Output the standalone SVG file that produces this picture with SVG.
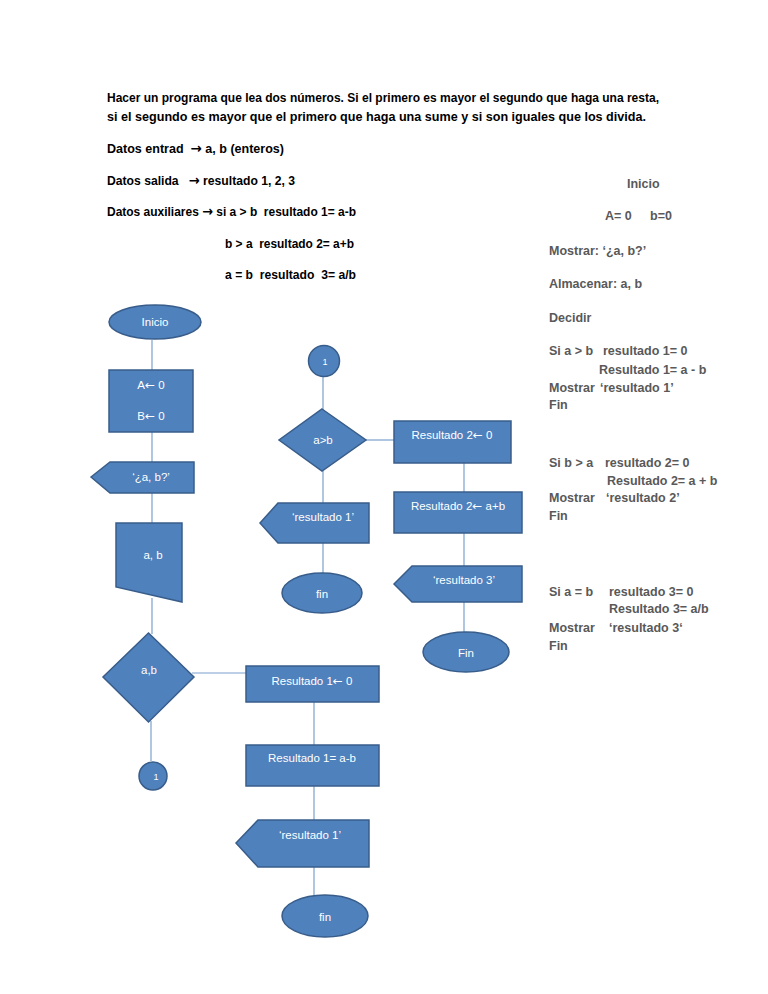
<svg xmlns="http://www.w3.org/2000/svg" width="768" height="994" viewBox="0 0 768 994">
<style>
.bg{fill:#ffffff}
text{white-space:pre}
.h{font-family:"Liberation Sans",Arial,sans-serif;font-weight:bold;font-size:13px;fill:#000}
.r{font-family:"Liberation Sans",Arial,sans-serif;font-weight:bold;font-size:12.5px;fill:#595959}
.s{fill:#4F81BD;stroke:#385D8A;stroke-width:1.5}
.t{font-family:"Liberation Sans",Arial,sans-serif;font-size:11.5px;fill:#ffffff;text-anchor:middle}
.c{stroke:#7BA0CD;stroke-width:1.2;fill:none}
.ar{font-family:"DejaVu Sans",sans-serif;font-weight:bold;font-size:14px}
.al{font-family:"DejaVu Sans",sans-serif;font-size:12px}
</style>
<rect class="bg" x="0" y="0" width="768" height="994"/>
<g id="header">
<text class="h" x="107" y="102" textLength="552" lengthAdjust="spacingAndGlyphs">Hacer un programa que lea dos números. Si el primero es mayor el segundo que haga una resta,</text>
<text class="h" x="107" y="121" textLength="539" lengthAdjust="spacingAndGlyphs">si el segundo es mayor que el primero que haga una sume y si son iguales que los divida.</text>
<text class="h" x="107" y="153" textLength="177" lengthAdjust="spacingAndGlyphs">Datos entrad  <tspan class="ar">→</tspan> a, b (enteros)</text>
<text class="h" x="107" y="185" textLength="188" lengthAdjust="spacingAndGlyphs">Datos salida   <tspan class="ar">→</tspan> resultado 1, 2, 3</text>
<text class="h" x="107" y="216" textLength="249" lengthAdjust="spacingAndGlyphs">Datos auxiliares <tspan class="ar">→</tspan> si a &gt; b  resultado 1= a-b</text>
<text class="h" x="225" y="248" textLength="129" lengthAdjust="spacingAndGlyphs">b &gt; a  resultado 2= a+b</text>
<text class="h" x="225" y="279" textLength="131" lengthAdjust="spacingAndGlyphs">a = b  resultado  3= a/b</text>
</g>
<g id="pseudocode">
<text class="r" x="627" y="188">Inicio</text>
<text class="r" x="605" y="220">A= 0</text>
<text class="r" x="650" y="220">b=0</text>
<text class="r" x="549" y="255">Mostrar: ‘¿a, b?’</text>
<text class="r" x="549" y="288">Almacenar: a, b</text>
<text class="r" x="549" y="322">Decidir</text>
<text class="r" x="549" y="355">Si a &gt; b</text>
<text class="r" x="603" y="355">resultado 1= 0</text>
<text class="r" x="599" y="374">Resultado 1= a - b</text>
<text class="r" x="549" y="392">Mostrar</text>
<text class="r" x="600" y="392">‘resultado 1’</text>
<text class="r" x="549" y="409">Fin</text>
<text class="r" x="549" y="467">Si b &gt; a</text>
<text class="r" x="605" y="467">resultado 2= 0</text>
<text class="r" x="607" y="485">Resultado 2= a + b</text>
<text class="r" x="549" y="502">Mostrar</text>
<text class="r" x="606" y="502">‘resultado 2’</text>
<text class="r" x="549" y="520">Fin</text>
<text class="r" x="549" y="596">Si a = b</text>
<text class="r" x="609" y="596">resultado 3= 0</text>
<text class="r" x="609" y="613">Resultado 3= a/b</text>
<text class="r" x="549" y="632">Mostrar</text>
<text class="r" x="609" y="632">‘resultado 3‘</text>
<text class="r" x="549" y="650">Fin</text>
</g>
<g id="connectors">
<line class="c" x1="152" y1="340" x2="152" y2="370"/>
<line class="c" x1="152" y1="432" x2="152" y2="462"/>
<line class="c" x1="152" y1="493" x2="152" y2="523"/>
<line class="c" x1="152" y1="598" x2="152" y2="634"/>
<line class="c" x1="192" y1="673" x2="246" y2="673"/>
<line class="c" x1="314" y1="702" x2="314" y2="745"/>
<line class="c" x1="314" y1="786" x2="314" y2="820"/>
<line class="c" x1="314" y1="867" x2="314" y2="896"/>
<line class="c" x1="151" y1="721" x2="151" y2="761"/>
<line class="c" x1="323" y1="376" x2="323" y2="410"/>
<line class="c" x1="366" y1="440" x2="394" y2="440"/>
<line class="c" x1="464" y1="463" x2="464" y2="492"/>
<line class="c" x1="464" y1="533" x2="464" y2="566"/>
<line class="c" x1="464" y1="602" x2="464" y2="633"/>
<line class="c" x1="323" y1="471" x2="323" y2="503"/>
<line class="c" x1="323" y1="543" x2="323" y2="573"/>
</g>
<g id="inicio">
<ellipse class="s" cx="155" cy="322" rx="46" ry="17"/>
<text class="t" x="155" y="326">Inicio</text>
</g>
<g id="init">
<rect class="s" x="109" y="370" width="84" height="62"/>
<text class="t" x="151" y="389">A<tspan class="al">←</tspan> 0</text>
<text class="t" x="151" y="420">B<tspan class="al">←</tspan> 0</text>
</g>
<g id="mostrar_ab">
<polygon class="s" points="91,477 110,462 194,462 194,493 110,493"/>
<text class="t" x="151" y="481">‘¿a, b?’</text>
</g>
<g id="leer_ab">
<polygon class="s" points="116,523 182,523 182,602 116,587"/>
<text class="t" x="153" y="559">a, b</text>
</g>
<g id="decision_ab">
<polygon class="s" points="148.5,633 194,677 148.5,722 103,677"/>
<text class="t" x="149" y="674">a,b</text>
</g>
<g id="conector1_a">
<circle class="s" cx="153" cy="776" r="14"/>
<text class="t" x="156" y="780" style="font-size:9px">1</text>
</g>
<g id="res1_init">
<rect class="s" x="246" y="666" width="133" height="36"/>
<text class="t" x="312" y="685">Resultado 1<tspan class="al">←</tspan> 0</text>
</g>
<g id="res1_calc">
<rect class="s" x="246" y="745" width="133" height="41"/>
<text class="t" x="312" y="762">Resultado 1= a-b</text>
</g>
<g id="mostrar_res1_b">
<polygon class="s" points="236,843 258,820 369,820 369,867 258,867"/>
<text class="t" x="310" y="839">‘resultado 1’</text>
</g>
<g id="fin_b">
<ellipse class="s" cx="325" cy="916" rx="43" ry="21"/>
<text class="t" x="325" y="921">fin</text>
</g>
<g id="conector1_b">
<circle class="s" cx="324" cy="361" r="15.5"/>
<text class="t" x="325" y="365" style="font-size:9px">1</text>
</g>
<g id="decision_agtb">
<polygon class="s" points="322,409 366,440 322,471 279,440"/>
<text class="t" x="323" y="444">a&gt;b</text>
</g>
<g id="res2_init">
<rect class="s" x="394" y="421" width="117" height="42"/>
<text class="t" x="452" y="439">Resultado 2<tspan class="al">←</tspan> 0</text>
</g>
<g id="res2_calc">
<rect class="s" x="394" y="492" width="128" height="41"/>
<text class="t" x="458" y="510">Resultado 2<tspan class="al">←</tspan> a+b</text>
</g>
<g id="mostrar_res3">
<polygon class="s" points="394,584 412,566 522,566 522,602 412,602"/>
<text class="t" x="464" y="584">‘resultado 3’</text>
</g>
<g id="fin_c">
<ellipse class="s" cx="466" cy="652" rx="43" ry="20"/>
<text class="t" x="466" y="657">Fin</text>
</g>
<g id="mostrar_res1_a">
<polygon class="s" points="260,523 278,503 369,503 369,543 278,543"/>
<text class="t" x="323" y="521">‘resultado 1’</text>
</g>
<g id="fin_a">
<ellipse class="s" cx="322" cy="593" rx="40" ry="20"/>
<text class="t" x="322" y="598">fin</text>
</g>
</svg>
